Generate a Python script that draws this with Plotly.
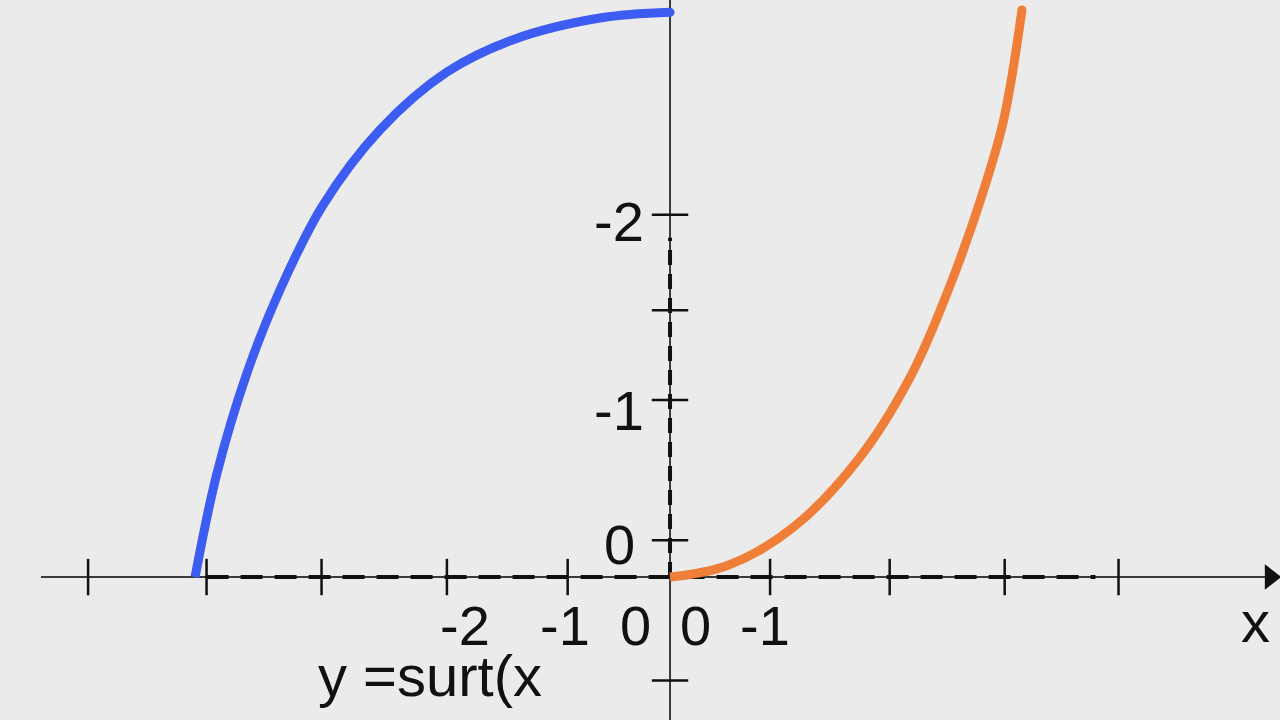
import plotly.graph_objects as go

# curves (axis units, origin where the axes cross)
blue_x = [-4.13, -3.94, -3.68, -3.39, -3.02, -2.52, -1.94, -1.37, -0.61, 0.0]
blue_y = [0.0, 0.90, 1.77, 2.50, 3.23, 3.89, 4.39, 4.67, 4.86, 4.91]

orange_x = [0.0, 0.50, 1.07, 1.65, 2.09, 2.41, 2.70, 2.90, 3.06]
orange_y = [0.0, 0.10, 0.43, 1.04, 1.74, 2.47, 3.28, 3.97, 4.93]

# axis ticks
x_ticks = [-5.06, -4.03, -3.03, -1.94, -0.89, 0.87, 1.91, 2.91, 3.90]
y_ticks = [3.15, 2.32, 1.54, 0.32, -0.90]

# tick labels (as drawn, odd as they are)
x_labels = ["-2", "-1", "0", "0", "-1"]
x_label_pos = [-1.78, -0.91, -0.30, 0.22, 0.83]
y_labels = ["-2", "-1", "0"]
y_label_pos = [3.09, 1.45, 0.28]

x_range = [-5.826, 5.304]
y_range = [-1.243, 5.017]

ink = "#111111"
axis_col = "#3a3a3a"
bg = "#ebebeb"
font = "Liberation Sans, Arial, sans-serif"

fig = go.Figure()

# x axis: thin solid line, thick dashes over the middle part
fig.add_trace(go.Scatter(x=[-5.47, 5.20], y=[0, 0], mode="lines",
                         line={"color": axis_col, "width": 2}))
fig.add_trace(go.Scatter(x=[-4.03, 3.70], y=[0, 0], mode="lines",
                         line={"color": ink, "width": 4, "dash": "22px,12px"}))
fig.add_trace(go.Scatter(x=[5.22], y=[0], mode="markers",
                         marker={"symbol": "triangle-right", "size": 22, "color": ink}))

# y axis
fig.add_trace(go.Scatter(x=[0, 0], y=[y_range[0], y_range[1]], mode="lines",
                         line={"color": axis_col, "width": 2}))
fig.add_trace(go.Scatter(x=[0, 0], y=[0, 2.95], mode="lines",
                         line={"color": ink, "width": 4, "dash": "15px,9px"}))

# ticks
fig.add_trace(go.Scatter(x=x_ticks, y=[0] * len(x_ticks), mode="markers",
                         marker={"symbol": "line-ns", "size": 26,
                                 "line": {"color": ink, "width": 2.5}}))
fig.add_trace(go.Scatter(x=[0] * len(y_ticks), y=y_ticks, mode="markers",
                         marker={"symbol": "line-ew", "size": 26,
                                 "line": {"color": ink, "width": 2.5}}))

# curves (dots at the ends stand in for round line caps)
for xs, ys, col in [(blue_x, blue_y, "#3d5cf2"), (orange_x, orange_y, "#ef7e38")]:
    fig.add_trace(go.Scatter(x=xs, y=ys, mode="lines",
                             line={"color": col, "width": 9,
                                   "shape": "spline", "smoothing": 1.0}))
    fig.add_trace(go.Scatter(x=[xs[-1]], y=[ys[-1]], mode="markers",
                             marker={"color": col, "size": 9}))

# labels
for t, p in zip(x_labels, x_label_pos):
    fig.add_annotation(x=p, y=-0.42, text=t, showarrow=False,
                       font={"family": font, "size": 56, "color": ink})
for t, p in zip(y_labels, y_label_pos):
    fig.add_annotation(x=-0.44, y=p, text=t, showarrow=False,
                       font={"family": font, "size": 56, "color": ink})
fig.add_annotation(x=5.09, y=-0.39, text="x", showarrow=False,
                   font={"family": font, "size": 58, "color": ink})
fig.add_annotation(x=-2.09, y=-0.86, text="y =surt(x", showarrow=False,
                   font={"family": font, "size": 58, "color": ink})

fig.update_layout(
    width=1280, height=720,
    margin={"l": 0, "r": 0, "t": 0, "b": 0},
    paper_bgcolor=bg, plot_bgcolor=bg,
    showlegend=False,
    xaxis={"range": x_range, "visible": False},
    yaxis={"range": y_range, "visible": False},
)

fig.write_html("out.html", config={"displayModeBar": False},
               post_script="document.body.style.margin = '0';")
